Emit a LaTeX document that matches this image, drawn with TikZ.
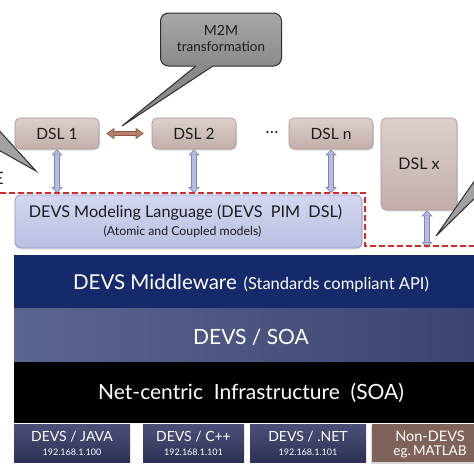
\documentclass[tikz,border=0pt]{standalone}
\usepackage{fontspec}
\setmainfont{Lato}
\usetikzlibrary{arrows.meta,shadows}
\definecolor{dsltop}{HTML}{DDD0CC}
\definecolor{dslbot}{HTML}{C3AEA9}
\definecolor{dslborder}{HTML}{A89490}
\definecolor{mdltop}{HTML}{D3D7F0}
\definecolor{mdlbot}{HTML}{B9C0E3}
\definecolor{mdlborder}{HTML}{8D94C4}
\definecolor{bluefill}{HTML}{B6BDE0}
\definecolor{blueout}{HTML}{7D86B8}
\definecolor{brownfill}{HTML}{B9806A}
\definecolor{brownout}{HTML}{8A5646}
\definecolor{mwblue}{HTML}{142A6B}
\definecolor{soaL}{HTML}{5A6590}
\definecolor{soaR}{HTML}{3B4470}
\definecolor{bottop}{HTML}{4A5078}
\definecolor{botbot}{HTML}{2C3256}
\definecolor{nondevs}{HTML}{7F6358}
\definecolor{redd}{HTML}{D42A2A}
\definecolor{calltop}{HTML}{A8A8A8}
\definecolor{callbot}{HTML}{8A8A8A}
\definecolor{callline}{HTML}{2E2E2E}
\definecolor{txtdark}{HTML}{1C1C1C}
\begin{document}
\begin{tikzpicture}[x=1pt,y=-1pt,
  dslbox/.style={draw=dslborder, line width=0.6pt, rounded corners=5pt,
    top color=dsltop, bottom color=dslbot, text=txtdark,
    font=\fontsize{15.5}{18}\selectfont, inner sep=0pt,
    drop shadow={opacity=0.25, shadow xshift=1pt, shadow yshift=-1.5pt}},
  layer/.style={inner sep=0pt, draw=none},
  botbox/.style={inner sep=0pt, top color=bottop, bottom color=botbot, minimum height=38},
  whitetxt/.style={text=white, inner sep=0pt},
  bottitle/.style={text=white, inner sep=0pt, font=\fontsize{14}{16}\selectfont},
  botip/.style={text=white, inner sep=0pt, font=\fontsize{9}{10}\selectfont},
  bluetips/.style={line width=0.7pt, draw=blueout,
    arrows={Triangle[fill=bluefill,length=6pt,width=11pt]-Triangle[fill=bluefill,length=6pt,width=11pt]}},
  blueshaft/.style={line width=0.7pt, draw=blueout, double=bluefill, double distance=4pt,
    shorten <=5.5pt, shorten >=5.5pt},
  browntips/.style={line width=0.7pt, draw=brownout,
    arrows={Triangle[fill=brownfill,length=8pt,width=11pt]-Triangle[fill=brownfill,length=8pt,width=11pt]}},
  brownshaft/.style={line width=0.7pt, draw=brownout, double=brownfill, double distance=3.6pt,
    shorten <=7.5pt, shorten >=7.5pt},
  calltail/.style={fill=callbot},
  callborder/.style={draw=callline, line width=1pt},
  reddash/.style={draw=redd, line width=2.4pt, dash pattern=on 6pt off 3pt}
]
\useasboundingbox (0,0) rectangle (474,474);
\fill[white] (0,0) rectangle (474,474);
\clip (0,0) rectangle (474,474);

% ---------- stacked layers ----------
\node[layer, fill=mwblue, minimum width=462, minimum height=53] (mw) at (245,281.5) {};
\node[layer, left color=soaL, right color=soaR, minimum width=462, minimum height=54] (soa) at (245,335) {};
\node[layer, fill=black, minimum width=462, minimum height=61] (net) at (245,392.5) {};
\node[whitetxt, font=\fontsize{20.5}{22}\selectfont] (mwt) at (251,283)
  {DEVS Middleware\,\,{\fontsize{16.5}{18}\selectfont (Standards compliant API)}};
\node[whitetxt, font=\fontsize{21}{23}\selectfont] (soat) at (251,337) {DEVS / SOA};
\node[whitetxt, font=\fontsize{21}{23}\selectfont] (nett) at (251,393) {Net-centric\ \ Infrastructure\ \ (SOA)};

% ---------- bottom boxes ----------
\node[botbox, minimum width=116] (java) at (72,443) {};
\node[botbox, minimum width=101] (cpp) at (193.5,443) {};
\node[botbox, minimum width=116] (dnet) at (308,443) {};
\node[inner sep=0pt, fill=nondevs, minimum width=104, minimum height=38,
  drop shadow={opacity=0.3, shadow xshift=-1pt, shadow yshift=-1.5pt}] (nd) at (424,443) {};
\node[bottitle] (javat) at (72,436.5) {DEVS / JAVA};
\node[botip] (javaip) at (72,452) {192.168.1.100};
\node[bottitle] (cppt) at (193.5,436.5) {DEVS / C++};
\node[botip] (cppip) at (193.5,452) {192.168.1.101};
\node[bottitle] (dnett) at (308,436.5) {DEVS / .NET};
\node[botip] (dnetip) at (308,452) {192.168.1.101};
\node[bottitle, font=\fontsize{14.5}{16}\selectfont] (ndt1) at (430,436) {Non-DEVS};
\node[bottitle, font=\fontsize{13.5}{15}\selectfont] (ndt2) at (430,452) {eg.\,MATLAB};

% ---------- modeling language box ----------
\node[inner sep=0pt, draw=mdlborder, line width=0.7pt, rounded corners=6pt,
  top color=mdltop, bottom color=mdlbot, minimum width=347, minimum height=53,
  drop shadow={opacity=0.2, shadow xshift=1pt, shadow yshift=-1.5pt}] (mdl) at (188.5,221.5) {};
\node[inner sep=0pt, text=txtdark, font=\fontsize{16.2}{18}\selectfont] (mdlt1) at (185.5,213)
  {DEVS Modeling Language (DEVS\ \ PIM\ \ DSL)};
\node[inner sep=0pt, text=txtdark, font=\fontsize{12.3}{14}\selectfont] (mdlt2) at (182.5,232)
  {(Atomic and Coupled models)};

% ---------- DSL boxes ----------
\node[dslbox, minimum width=84, minimum height=31] (dsl1) at (57,133.5) {DSL 1};
\node[dslbox, minimum width=84, minimum height=31] (dsl2) at (194,133.5) {DSL 2};
\node[dslbox, minimum width=84, minimum height=31] (dsln) at (331,133.5) {DSL n};
\node[dslbox, font=\fontsize{16}{18}\selectfont, minimum width=76, minimum height=92] (dslx) at (419,164) {DSL x};
\node[inner sep=0pt, text=txtdark, font=\fontsize{17}{19}\selectfont] (dots) at (272,133) {\dots};

% ---------- arrows ----------
\foreach \d in {dsl1,dsl2,dsln}{
  \draw[bluetips] (\d.south) -- ([yshift=1.5pt]\d.south |- mdl.north);
  \draw[blueshaft] (\d.south) -- ([yshift=1.5pt]\d.south |- mdl.north);
}
\coordinate (dxa) at ([xshift=8pt]dslx.south);
\coordinate (dxb) at ([yshift=7pt]dxa |- mw.north);
\draw[bluetips] (dxa) -- (dxb);
\draw[blueshaft] (dxa) -- (dxb);

\coordinate (ba) at ([xshift=7pt]dsl1.east);
\coordinate (bb) at ([xshift=-8pt]dsl2.west);
\draw[browntips] (ba) -- (bb);
\draw[brownshaft] (ba) -- (bb);

% ---------- red dashed boundary ----------
\draw[reddash] (0,193) -- (365,193) -- (365,246) -- (476,246);

% ---------- M2M callout ----------
\node[inner sep=0pt, draw=callline, line width=1pt, rounded corners=8pt,
  top color=calltop, bottom color=callbot, minimum width=121, minimum height=53] (m2m) at (221,39.5) {};
\coordinate (m2mtip) at (122,126);
\fill[calltail] (195.5,62) -- (196,66) -- (m2mtip) -- (213,66) -- (213.5,62) -- cycle;
\draw[callborder] (196,66) -- (m2mtip) -- (213,66);
\node[inner sep=0pt, text=txtdark, font=\fontsize{14}{16}\selectfont] (m2mt1) at (221,30) {M2M};
\node[inner sep=0pt, text=txtdark, font=\fontsize{13.5}{15}\selectfont] (m2mt2) at (221,47) {transformation};

% ---------- partial callouts at the edges ----------
\coordinate (ltip) at (36,171);
\fill[calltail, fill=calltop!80!callbot] (-5,126) -- (ltip) -- (-5,148) -- cycle;
\draw[callborder] (-5,126) -- (ltip) -- (-5,148);
\node[anchor=east, inner sep=0pt, text=txtdark, font=\fontsize{17}{19}\selectfont] (ledge) at (4,178) {E};

\coordinate (rtip) at (436,236);
\fill[calltail, fill=calltop!80!callbot] (480,173) -- (rtip) -- (480,193) -- cycle;
\draw[callborder] (480,173) -- (rtip) -- (480,193);
\end{tikzpicture}
\end{document}
